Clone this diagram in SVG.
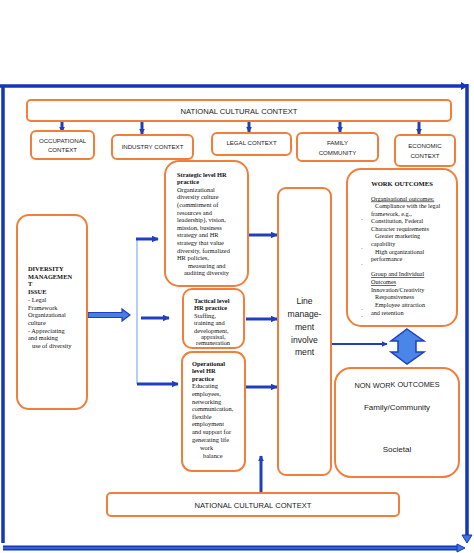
<svg xmlns="http://www.w3.org/2000/svg" width="474" height="553" viewBox="0 0 474 553">
<defs>
<marker id="ah" viewBox="0 0 10 10" refX="9" refY="5" markerWidth="7" markerHeight="7" markerUnits="userSpaceOnUse" orient="auto"><path d="M0,0 L10,5 L0,10 z" fill="#1f3fbf"/></marker>
<marker id="ahs" viewBox="0 0 10 10" refX="9" refY="5" markerWidth="6" markerHeight="6" markerUnits="userSpaceOnUse" orient="auto"><path d="M0,0 L10,5 L0,10 z" fill="#1f3fbf"/></marker>
</defs>
<style>
.box{fill:#fff;stroke:#f07f3c;stroke-width:2}
.sans{font-family:"Liberation Sans",Arial,sans-serif;fill:#1a1a1a}
.ser{font-family:"Liberation Serif","Times New Roman",serif;fill:#111}
.ctx{font-size:6.1px;text-anchor:middle}
.hr{font-size:6.4px}
.b{font-weight:bold}
.u{text-decoration:underline}
.arr{stroke:#1f3fbf;stroke-width:3;fill:none}
.frame{stroke:#1436b8;stroke-width:3.5;fill:none}
</style>
<rect width="474" height="553" fill="#fff"/>

<g id="connectors">
<line class="frame" x1="0" y1="86" x2="462" y2="86"/>
<path d="M461,82 L468,86 L461,90 z" fill="#1436b8"/>
<line class="frame" x1="3" y1="85" x2="3" y2="543"/>
<line class="frame" x1="467" y1="84" x2="467" y2="536"/>
<path d="M462,535 L472,535 L467,543 z" fill="#3f74e0" stroke="#1436b8" stroke-width="1"/>
<line x1="3" y1="548" x2="458" y2="548" stroke="#1436b8" stroke-width="5"/>
<line x1="3" y1="548" x2="458" y2="548" stroke="#3f74e0" stroke-width="1.5"/>
<path d="M457,544 L465,548 L457,552 z" fill="#3f74e0" stroke="#1436b8" stroke-width="1"/>

<line class="arr" x1="62" y1="121" x2="62" y2="132" marker-end="url(#ahs)"/>
<line class="arr" x1="142" y1="121" x2="142" y2="134" marker-end="url(#ahs)"/>
<line class="arr" x1="249" y1="121" x2="249" y2="132" marker-end="url(#ahs)"/>
<line class="arr" x1="340" y1="121" x2="340" y2="132" marker-end="url(#ahs)"/>
<line class="arr" x1="419" y1="121" x2="419" y2="134" marker-end="url(#ahs)"/>

<path d="M88,312.5 L122,312.5 L122,309 L130,315 L122,321 L122,317.5 L88,317.5 z" fill="#4a7de0" stroke="#1f3fbf" stroke-width="1.2"/>
<line x1="137" y1="239" x2="137" y2="384" stroke="#6f9be8" stroke-width="1"/>
<line class="arr" x1="136" y1="239" x2="158" y2="239" marker-end="url(#ah)"/>
<line class="arr" x1="141" y1="318" x2="169" y2="318" marker-end="url(#ah)"/>
<line class="arr" x1="137" y1="384" x2="178" y2="384" marker-end="url(#ah)"/>

<line class="arr" x1="248" y1="235" x2="277" y2="235" marker-end="url(#ah)"/>
<line class="arr" x1="246" y1="319" x2="277" y2="319" marker-end="url(#ah)"/>
<line class="arr" x1="245" y1="387" x2="277" y2="387" marker-end="url(#ah)"/>

<line x1="331" y1="344" x2="387" y2="344" stroke="#1f3fbf" stroke-width="2" marker-end="url(#ahs)"/>
<path d="M407,329 L424,341 L416,341 L416,352 L424,352 L407,364 L391,352 L398,352 L398,341 L391,341 z" fill="#4a86e8" stroke="#1f3fbf" stroke-width="1.5"/>

<line class="arr" x1="261" y1="493" x2="261" y2="456" marker-end="url(#ahs)"/>
</g>

<g id="national-top">
<rect class="box" x="27" y="100" width="424" height="21" rx="4"/>
<text class="sans" x="239" y="114" font-size="7.6" text-anchor="middle">NATIONAL CULTURAL CONTEXT</text>
</g>

<g id="occupational">
<rect class="box" x="31" y="131" width="63" height="28" rx="5"/>
<text class="sans ctx" x="62.5" y="143">OCCUPATIONAL</text>
<text class="sans ctx" x="62.5" y="152">CONTEXT</text>
</g>
<g id="industry">
<rect class="box" x="112" y="135" width="81" height="24" rx="5"/>
<text class="sans ctx" x="152.5" y="149">INDUSTRY CONTEXT</text>
</g>
<g id="legal">
<rect class="box" x="212" y="133" width="79" height="22" rx="5"/>
<text class="sans ctx" x="251.5" y="145">LEGAL CONTEXT</text>
</g>
<g id="family">
<rect class="box" x="297" y="133" width="81" height="28" rx="5"/>
<text class="sans ctx" x="337.5" y="145">FAMILY</text>
<text class="sans ctx" x="337.5" y="155">COMMUNITY</text>
</g>
<g id="economic">
<rect class="box" x="395" y="135" width="60" height="31" rx="5"/>
<text class="sans ctx" x="425" y="148">ECONOMIC</text>
<text class="sans ctx" x="425" y="158">CONTEXT</text>
</g>

<g id="diversity">
<rect class="box" x="17" y="215" width="70" height="194" rx="12"/>
<text class="ser hr" x="28" y="271"><tspan class="b">DIVERSITY</tspan><tspan class="b" x="28" dy="7.7">MANAGEMEN</tspan><tspan class="b" x="28" dy="7.7">T</tspan><tspan class="b" x="28" dy="7.7">ISSUE</tspan><tspan x="28" dy="7.7">- Legal</tspan><tspan x="28" dy="7.7">Framework</tspan><tspan x="28" dy="7.7">Organizational</tspan><tspan x="28" dy="7.7">culture</tspan><tspan x="28" dy="7.7">- Appreciating</tspan><tspan x="28" dy="7.7">and making</tspan><tspan x="32" dy="7.7">use of diversity</tspan></text>
</g>

<g id="strategic">
<rect class="box" x="165" y="161" width="83" height="125" rx="14"/>
<text class="ser hr" x="177" y="176.5"><tspan class="b">Strategic level HR</tspan><tspan class="b" x="177" dy="7.6">practice</tspan><tspan x="177" dy="7.6">Organizational</tspan><tspan x="177" dy="7.6">diversity culture</tspan><tspan x="177" dy="7.6">(commitment of</tspan><tspan x="177" dy="7.6">resources and</tspan><tspan x="177" dy="7.6">leadership), vision,</tspan><tspan x="177" dy="7.6">mission, business</tspan><tspan x="177" dy="7.6">strategy and HR</tspan><tspan x="177" dy="7.6">strategy that value</tspan><tspan x="177" dy="7.6">diversity, formalized</tspan><tspan x="177" dy="7.6">HR policies,</tspan><tspan x="188" dy="7.6">measuring and</tspan><tspan x="184" dy="7.6">auditing diversity</tspan></text>
</g>

<g id="tactical">
<rect class="box" x="183" y="289" width="61" height="59" rx="9"/>
<text class="ser hr" x="194" y="302.5"><tspan class="b">Tactical level</tspan><tspan class="b" x="194" dy="7.5">HR practice</tspan><tspan x="194" dy="7.5">Staffing,</tspan><tspan x="194" dy="7.5">training and</tspan><tspan x="194" dy="7.5">development,</tspan><tspan x="201" dy="6.5">appraisal,</tspan><tspan x="196" dy="5.5">remuneration</tspan></text>
</g>

<g id="operational">
<rect class="box" x="182" y="352" width="63" height="119" rx="10"/>
<text class="ser hr" x="192" y="365.5"><tspan class="b">Operational</tspan><tspan class="b" x="192" dy="7.6">level HR</tspan><tspan class="b" x="192" dy="7.6">practice</tspan><tspan x="192" dy="7.6">Educating</tspan><tspan x="192" dy="7.6">employees,</tspan><tspan x="192" dy="7.6">networking</tspan><tspan x="192" dy="7.6">communication,</tspan><tspan x="192" dy="7.6">flexible</tspan><tspan x="192" dy="7.6">employment</tspan><tspan x="192" dy="7.6">and support for</tspan><tspan x="192" dy="7.6">generating life</tspan><tspan x="200" dy="8.2">work</tspan><tspan x="203" dy="8.2">balance</tspan></text>
</g>

<g id="line-management">
<rect class="box" x="278" y="188" width="53" height="287" rx="8"/>
<text class="sans" font-size="8.6" text-anchor="middle"><tspan x="304.5" y="304">Line</tspan><tspan x="304.5" y="317">manage-</tspan><tspan x="304.5" y="330">ment</tspan><tspan x="304.5" y="342.5">involve</tspan><tspan x="304.5" y="355">ment</tspan></text>
</g>

<g id="work-outcomes">
<rect class="box" x="347" y="169" width="110" height="157" rx="14"/>
<text class="ser b" x="402" y="185.5" font-size="6.6" text-anchor="middle">WORK OUTCOMES</text>
<text class="ser" font-size="6.2"><tspan class="u" x="371" y="200.5">Organisational outcomes:</tspan><tspan x="375" y="208">Compliance with the legal</tspan><tspan x="371" y="215.5">framework, e.g.,</tspan><tspan x="371" y="223.2">Constitution, Federal</tspan><tspan x="371" y="230.8">Character requirements</tspan><tspan x="375" y="238.3">Greater marketing</tspan><tspan x="371" y="246">capability</tspan><tspan x="375" y="253.5">High organizational</tspan><tspan x="371" y="261.2">performance</tspan><tspan class="u" x="371" y="276.3">Group and Individual</tspan><tspan class="u" x="371" y="284">Outcomes</tspan><tspan x="371" y="291.5">Innovation/Creativity</tspan><tspan x="375" y="299">Responsiveness</tspan><tspan x="375" y="306.8">Employee attraction</tspan><tspan x="371" y="314.6">and retention</tspan></text>
<text class="ser" font-size="5" fill="#555"><tspan x="361" y="221">-</tspan><tspan x="361" y="250">-</tspan><tspan x="361" y="266">-</tspan><tspan x="361" y="311">-</tspan><tspan x="361" y="318">-</tspan></text>
</g>

<g id="non-work-outcomes">
<rect class="box" x="335" y="368" width="124" height="109" rx="16"/>
<text class="sans" x="397" y="387.5" font-size="7.3" text-anchor="middle">NON WOR<tspan baseline-shift="1.5">K OUTCOMES</tspan></text>
<text class="sans" x="397" y="409.5" font-size="8" text-anchor="middle">Family/Community</text>
<text class="sans" x="397" y="451.5" font-size="8" text-anchor="middle">Societal</text>
</g>

<g id="national-bottom">
<rect class="box" x="107" y="493" width="292" height="23" rx="4"/>
<text class="sans" x="253" y="507.5" font-size="7.6" text-anchor="middle">NATIONAL CULTURAL CONTEXT</text>
</g>
</svg>
